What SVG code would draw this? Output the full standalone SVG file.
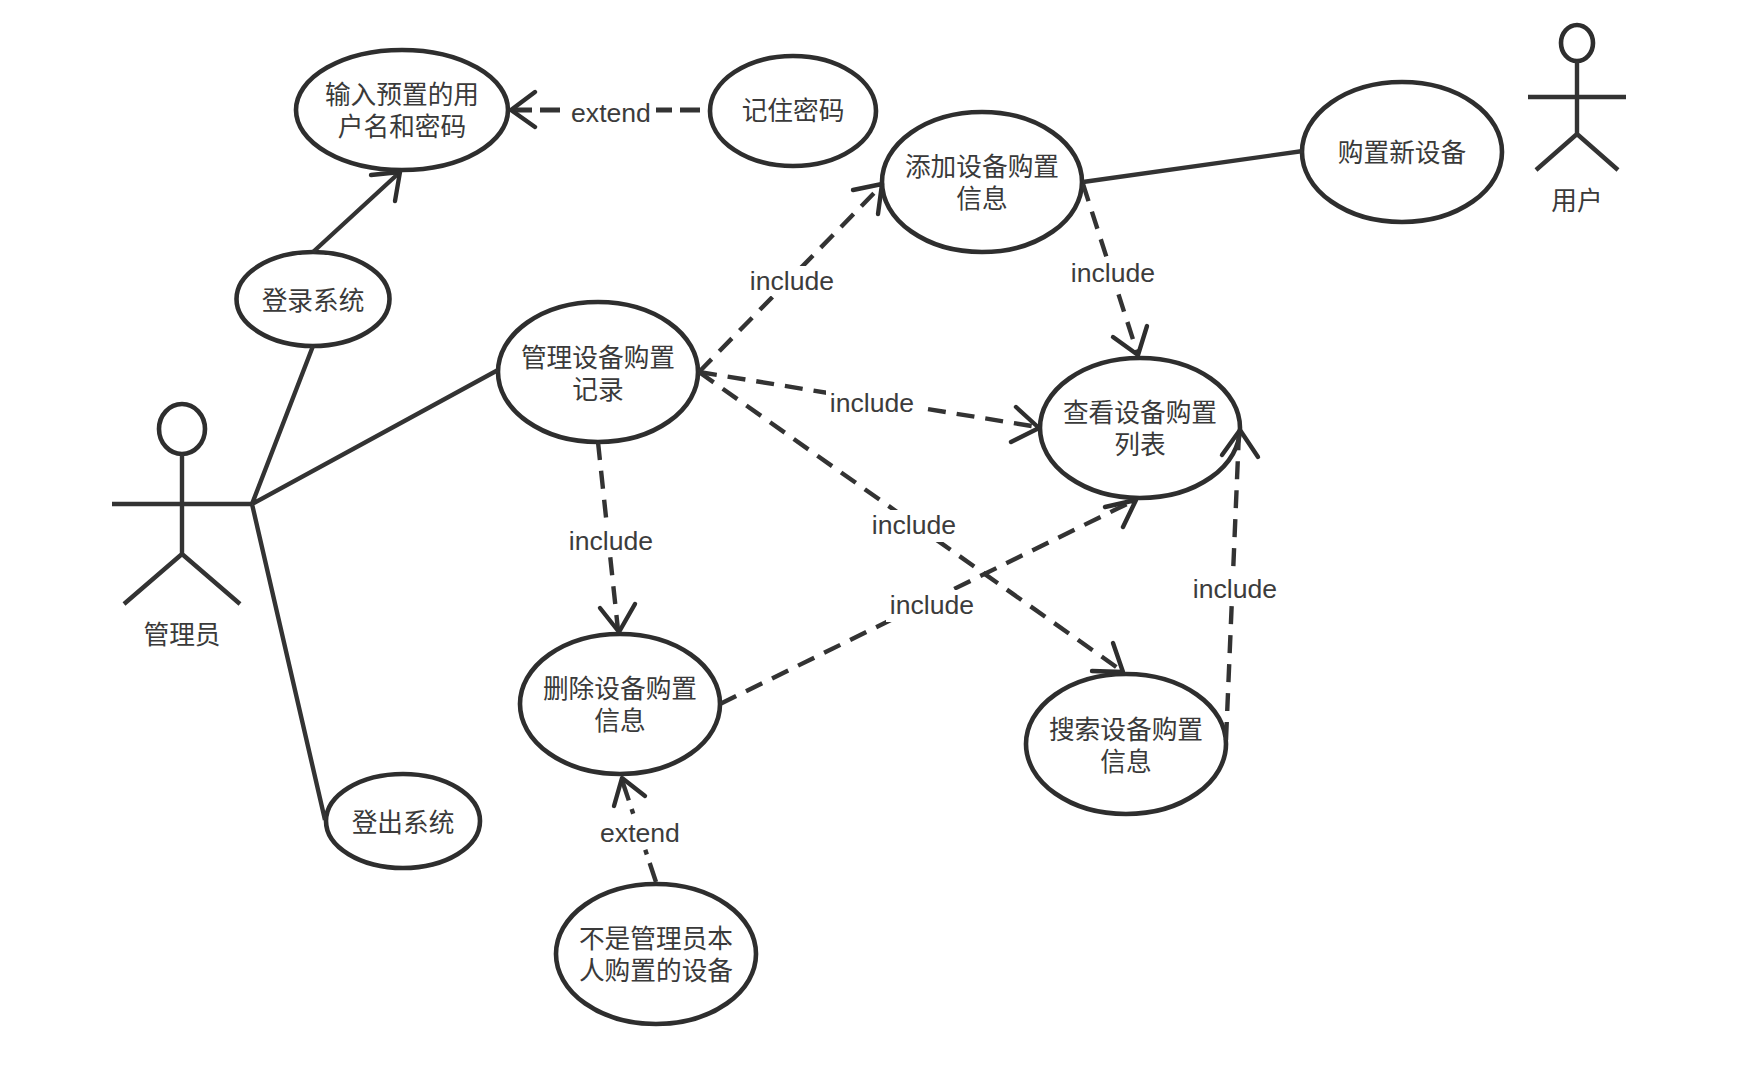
<svg xmlns="http://www.w3.org/2000/svg" width="1756" height="1080" viewBox="0 0 1756 1080">
<style>
.n{fill:#fff;stroke:#2e2e2e;stroke-width:4.6}
.a{fill:none;stroke:#2e2e2e;stroke-width:4.4;stroke-linecap:round;stroke-linejoin:round}
.l{fill:none;stroke:#333;stroke-width:4.4}
.d{fill:none;stroke:#333;stroke-width:4.4;stroke-dasharray:18 11}
.x{stroke-width:5;stroke-dasharray:20 8;stroke-dashoffset:20}
.dd{stroke-dasharray:20 9 5 9}
.t{font-family:"Noto Sans CJK SC","Liberation Sans",sans-serif;font-size:25.7px;fill:#3a3a3a;text-anchor:middle}
.c{font-family:"Liberation Sans",sans-serif;font-size:26.6px;fill:#3c3c3c;text-anchor:middle}
.b{fill:#fff;stroke:none}
</style>
<rect width="1756" height="1080" fill="#fff"/>
<g id="admin"><ellipse class="n" cx="182" cy="429" rx="23" ry="25"/><path class="l" d="M182 454V554M112 504H252M182 554L124 604M182 554L240 604"/><text class="t" x="182" y="644">管理员</text></g>
<g id="user"><ellipse class="n" cx="1577" cy="43" rx="16" ry="18"/><path class="l" d="M1577 61V134M1528 97H1626M1577 134L1536 170M1577 134L1618 170"/><text class="t" x="1577" y="210">用户</text></g>
<g id="n1"><ellipse class="n" cx="402" cy="110" rx="106" ry="60"/><text class="t" x="402" y="104">输入预置的用<tspan x="402" dy="32">户名和密码</tspan></text></g>
<g id="n2"><ellipse class="n" cx="793" cy="111" rx="83" ry="55"/><text class="t" x="793" y="120">记住密码</text></g>
<g id="n3"><ellipse class="n" cx="313" cy="299" rx="76.5" ry="47"/><text class="t" x="313" y="310">登录系统</text></g>
<g id="n4"><ellipse class="n" cx="598" cy="372" rx="100" ry="70"/><text class="t" x="598" y="367">管理设备购置<tspan x="598" dy="32">记录</tspan></text></g>
<g id="n5"><ellipse class="n" cx="982" cy="182" rx="100" ry="70"/><text class="t" x="982" y="176">添加设备购置<tspan x="982" dy="32">信息</tspan></text></g>
<g id="n6"><ellipse class="n" cx="1402" cy="152" rx="100" ry="70"/><text class="t" x="1402" y="162">购置新设备</text></g>
<g id="n7"><ellipse class="n" cx="1140" cy="428" rx="100" ry="70"/><text class="t" x="1140" y="422">查看设备购置<tspan x="1140" dy="32">列表</tspan></text></g>
<g id="n8"><ellipse class="n" cx="620" cy="704" rx="100" ry="70"/><text class="t" x="620" y="698">删除设备购置<tspan x="620" dy="32">信息</tspan></text></g>
<g id="n9"><ellipse class="n" cx="1126" cy="744" rx="100" ry="70"/><text class="t" x="1126" y="739">搜索设备购置<tspan x="1126" dy="32">信息</tspan></text></g>
<g id="n10"><ellipse class="n" cx="403" cy="821" rx="77" ry="47"/><text class="t" x="403" y="832">登出系统</text></g>
<g id="n11"><ellipse class="n" cx="656" cy="954" rx="100" ry="70"/><text class="t" x="656" y="948">不是管理员本<tspan x="656" dy="32">人购置的设备</tspan></text></g>
<g id="connectors">
<path class="l" d="M252 504L313 346M252 504L498 370M252 504L325 820M313 252L400 172M1083 182L1303 151"/>
<path class="a" d="M371 175L400 172L395 201"/>
<path class="d x" d="M708 110H512"/><path class="a" d="M535 92L511 110L535 127"/>
<path class="d" d="M699 372L882 185"/><path class="a" d="M853 190L882 184L878 214"/>
<path class="d" d="M699 372L1038 427"/><path class="a" d="M1016 407L1039 428L1011 442"/>
<path class="d" d="M699 372L1122 671"/><path class="a" d="M1113 643L1123 672L1092 671"/>
<path class="d" d="M598 442L618 630"/><path class="a" d="M600 608L619 632L635 604"/>
<path class="d" d="M720 704L1135 500"/><path class="a" d="M1105 507L1136 500L1123 527"/>
<path class="d" d="M1226 740L1239 432"/><path class="a" d="M1222 455L1240 430L1258 457"/>
<path class="d" d="M1083 184L1138 355"/><path class="a" d="M1113 337L1138 355L1147 326"/>
<path class="d dd" d="M656 882L622 780"/><path class="a" d="M614 806L622 778L645 796"/>
</g>
<g id="labels">
<rect class="b" x="566" y="96" width="90" height="30"/><text class="c" x="611" y="122">extend</text>
<rect class="b" x="746" y="266" width="92" height="30"/><text class="c" x="792" y="290">include</text>
<rect class="b" x="1066" y="258" width="92" height="30"/><text class="c" x="1113" y="282">include</text>
<rect class="b" x="826" y="388" width="92" height="30"/><text class="c" x="872" y="412">include</text>
<rect class="b" x="868" y="510" width="92" height="32"/><text class="c" x="914" y="534">include</text>
<rect class="b" x="565" y="525" width="92" height="30"/><text class="c" x="611" y="550">include</text>
<rect class="b" x="886" y="590" width="92" height="32"/><text class="c" x="932" y="614">include</text>
<rect class="b" x="1189" y="575" width="92" height="30"/><text class="c" x="1235" y="598">include</text>
<rect class="b" x="596" y="818" width="90" height="30"/><text class="c" x="640" y="842">extend</text>
</g>
</svg>
